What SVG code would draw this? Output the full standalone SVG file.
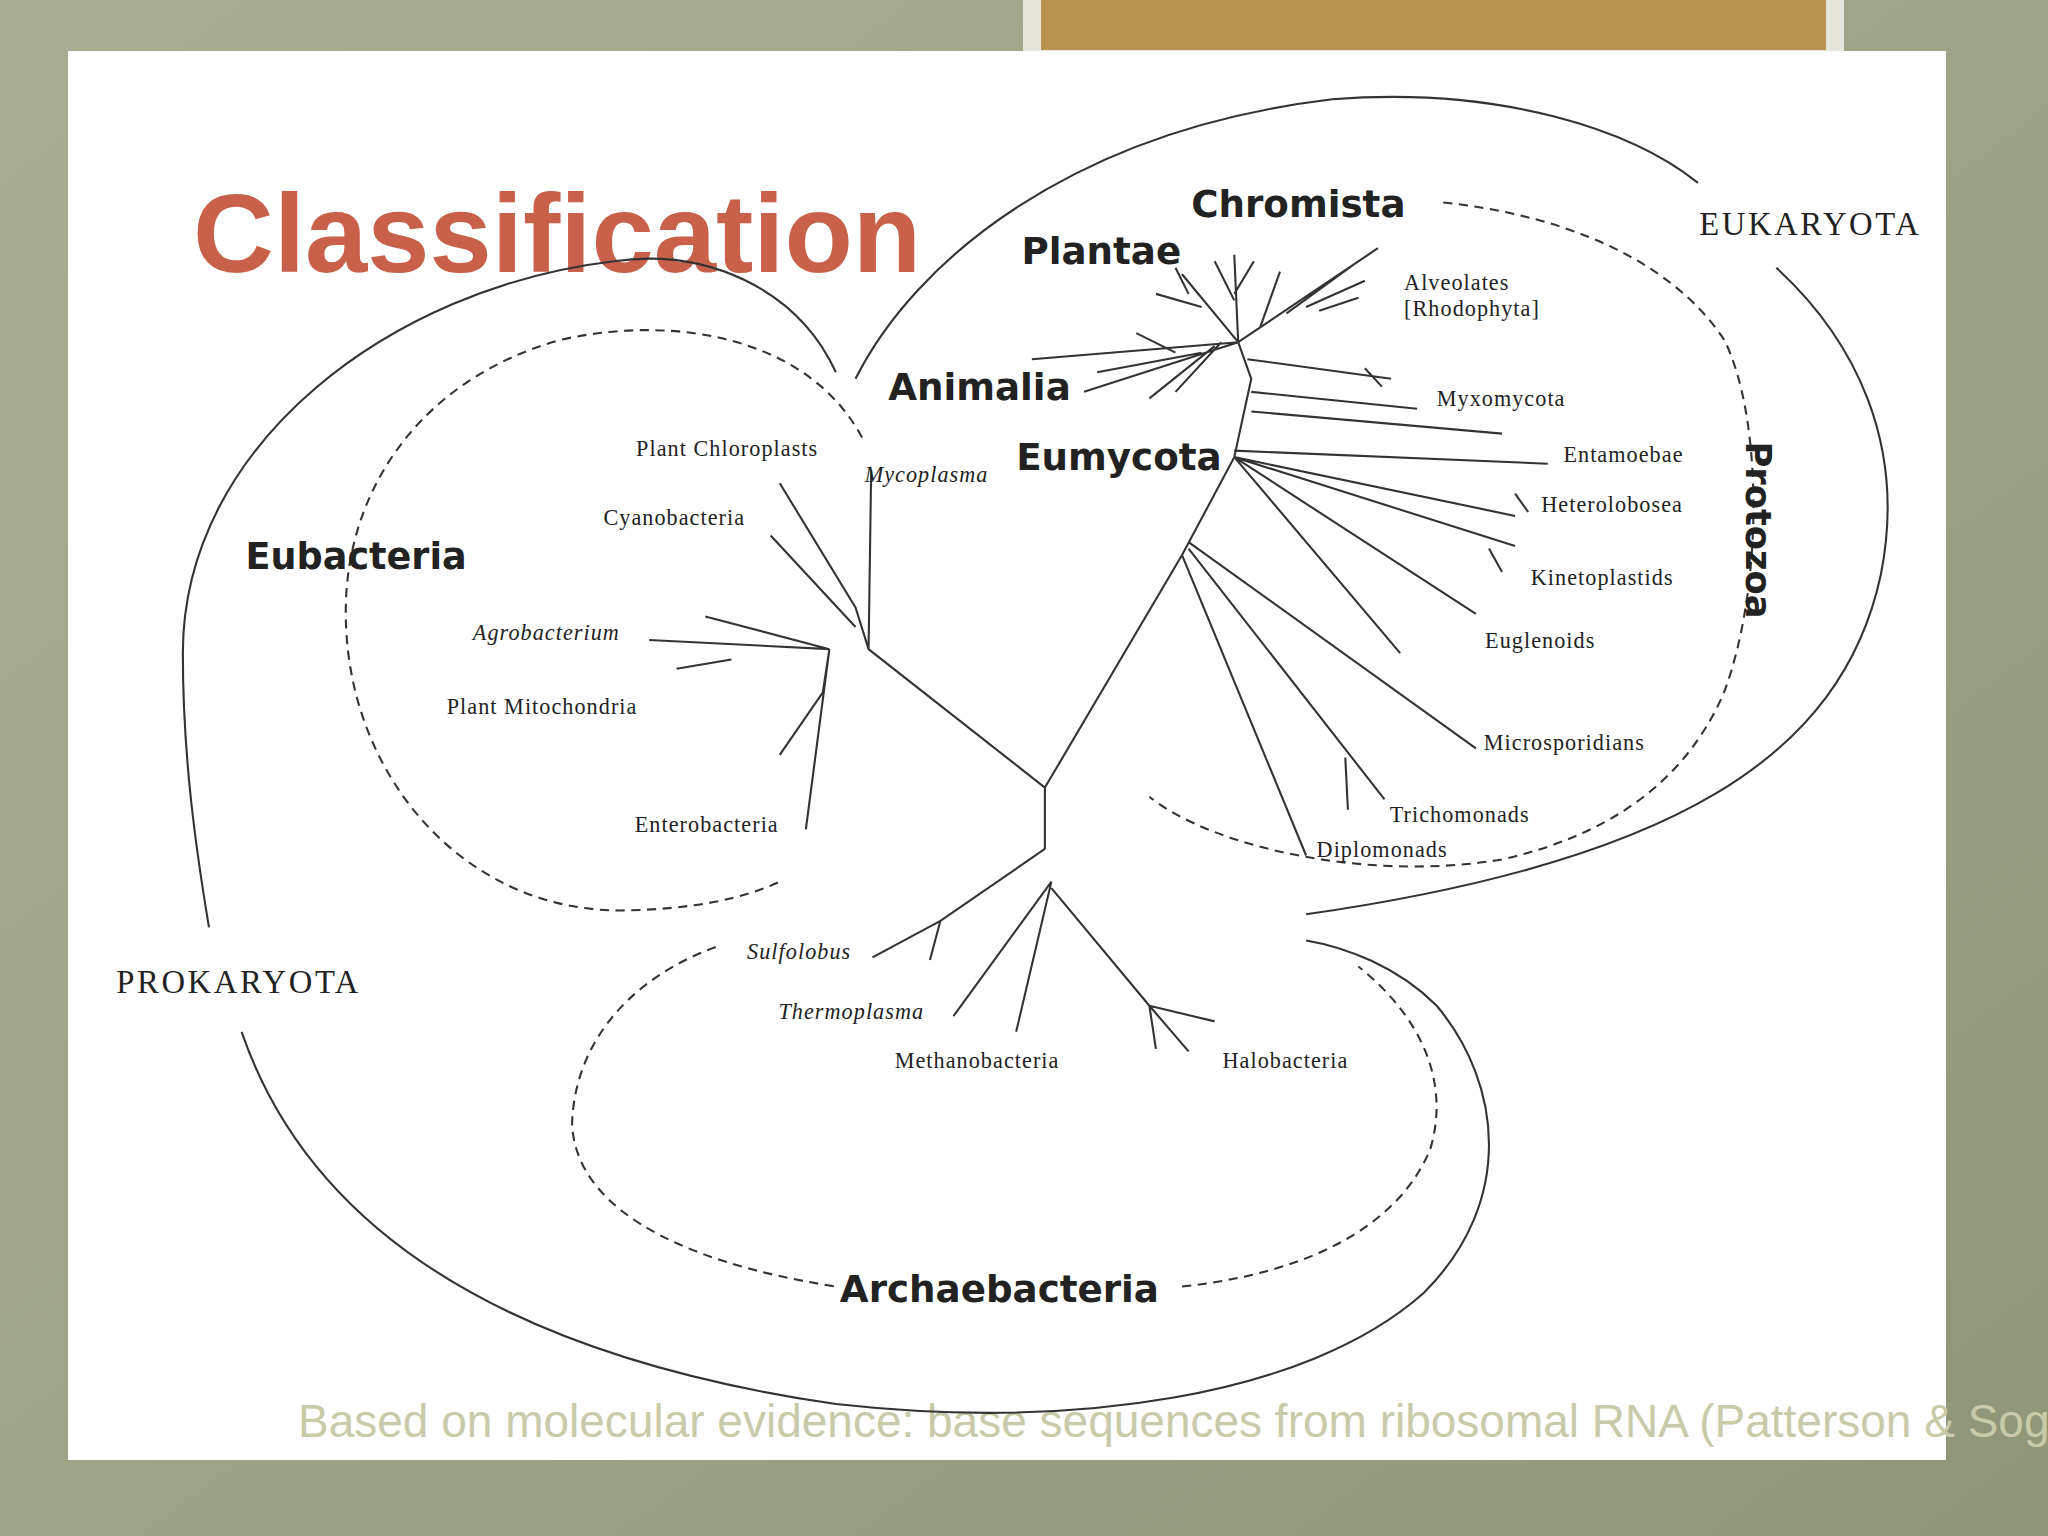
<svg xmlns="http://www.w3.org/2000/svg" width="2048" height="1536" viewBox="0 0 2048 1536">
<defs>
<linearGradient id="bg" x1="0" y1="0" x2="1" y2="1"><stop offset="0" stop-color="#a9ae92"/><stop offset="0.5" stop-color="#9ea488"/><stop offset="1" stop-color="#8f9678"/></linearGradient>
<style>
.l{fill:none;stroke:#333;stroke-width:1.6}
.d{fill:none;stroke:#333;stroke-width:1.6;stroke-dasharray:7 5}
.s{font-family:"Liberation Serif",serif;font-size:17px;letter-spacing:0.8px;fill:#222}
.i{font-style:italic}
.b{font-family:"DejaVu Sans",sans-serif;font-weight:bold;fill:#222}
.c{font-family:"Liberation Serif",serif;font-size:25px;letter-spacing:2px;fill:#222}
</style>
</defs>
<rect width="2048" height="1536" fill="url(#bg)"/>
<rect x="1023" y="0" width="821" height="55" fill="#e6e6dc"/>
<rect x="1041" y="0" width="785" height="50" fill="#b8954f"/>
<rect x="68" y="51" width="1878" height="1409" fill="#ffffff"/>
<text x="193" y="272" font-family="Liberation Sans,sans-serif" font-weight="bold" font-size="112" fill="#c8604a">Classification</text>
<text x="298" y="1437" font-family="Liberation Sans,sans-serif" font-size="46" fill="#c9caa9">Based on molecular evidence: base sequences from ribosomal RNA  (Patterson &amp; Sogin</text>
<g transform="scale(1.30612)">
<g id="connectors">
<path class="l" d="M800 650 L800 603 L905 425 L945 350 L958 290 L948 262"/>
<path class="l" d="M800 603 L665 497 L667 360 M665 497 L655 465 L597 370 M655 480 L590 410 M635 497 L497 490 M635 497 L540 472 M560 505 L518 512 M635 497 L630 530 L597 578 M635 497 L617 635"/>
<path class="l" d="M800 650 L720 705 L668 733 M720 705 L712 735 M805 675 L730 778 M805 675 L778 790 M805 680 L880 770 L910 805 M880 770 L930 782 M880 770 L885 803"/>
<path class="l" d="M905 425 L1000 655 M910 420 L1060 612 M1030 580 L1032 620 M910 415 L1130 573 M945 350 L1072 500 M945 350 L1130 470 M945 350 L1160 418 M1140 420 L1150 438 M945 350 L1160 395 M1160 378 L1170 392 M945 345 L1185 355 M958 315 L1150 332 M958 300 L1085 313 M955 275 L1065 290 M1045 282 L1058 296"/>
<path class="l" d="M948 262 L1055 190 M965 250 L980 208 M985 240 L1040 200 M1000 235 L1045 215 M1010 238 L1040 228 M948 262 L945 195 M945 230 L930 200 M945 225 L960 200 M948 262 L905 210 M920 235 L885 225 M910 225 L900 205 M948 262 L790 275 M948 262 L830 300 M900 270 L870 255 M920 270 L840 285 M930 265 L880 305 M935 262 L900 300"/>
<path class="d" d="M660 335 C620 260 520 240 430 260 C320 290 260 380 265 480 C270 600 360 700 480 697 C530 696 570 688 597 675"/>
<path class="l" d="M640 285 C610 220 540 190 470 200 C300 220 140 340 140 500 C140 580 150 650 160 710"/>
<path class="l" d="M185 790 C240 950 400 1040 640 1075 C820 1095 1000 1070 1090 990 C1160 920 1150 830 1100 770 C1070 740 1030 725 1000 720"/>
<path class="l" d="M655 290 C700 200 820 100 1020 76 C1150 66 1250 100 1300 140"/>
<path class="l" d="M1360 205 C1420 260 1460 340 1440 440 C1410 580 1280 660 1000 700"/>
<path class="d" d="M1105 155 C1200 165 1280 200 1320 260 C1350 320 1350 450 1320 530 C1290 600 1230 640 1150 658 C1050 675 930 650 880 610"/>
<path class="d" d="M548 725 C480 750 440 800 438 860 C440 920 510 965 640 985"/>
<path class="d" d="M905 985 C1000 975 1070 940 1095 880 C1110 830 1090 780 1040 740"/>
</g>
<g id="labels">
<text class="b" x="912" y="166" font-size="28.5">Chromista</text>
<text class="b" x="782" y="202" font-size="28.5">Plantae</text>
<text class="b" x="680" y="306" font-size="28.5">Animalia</text>
<text class="b" x="778" y="360" font-size="28.5">Eumycota</text>
<text class="b" x="188" y="436" font-size="28">Eubacteria</text>
<text class="b" x="643" y="997" font-size="28.5">Archaebacteria</text>
<text class="b" font-size="27" transform="translate(1337,338) rotate(90)">Protozoa</text>
<text class="c" x="1301" y="180">EUKARYOTA</text>
<text class="c" x="89" y="760">PROKARYOTA</text>
<text class="s" x="1075" y="222">Alveolates</text>
<text class="s" x="1075" y="242">[Rhodophyta]</text>
<text class="s" x="1100" y="311">Myxomycota</text>
<text class="s" x="1197" y="354">Entamoebae</text>
<text class="s" x="1180" y="392">Heterolobosea</text>
<text class="s" x="1172" y="448">Kinetoplastids</text>
<text class="s" x="1137" y="496">Euglenoids</text>
<text class="s" x="1136" y="574">Microsporidians</text>
<text class="s" x="1064" y="629">Trichomonads</text>
<text class="s" x="1008" y="656">Diplomonads</text>
<text class="s" x="487" y="349">Plant Chloroplasts</text>
<text class="s i" x="662" y="369">Mycoplasma</text>
<text class="s" x="462" y="402">Cyanobacteria</text>
<text class="s i" x="362" y="490">Agrobacterium</text>
<text class="s" x="342" y="547">Plant Mitochondria</text>
<text class="s" x="486" y="637">Enterobacteria</text>
<text class="s i" x="572" y="734">Sulfolobus</text>
<text class="s i" x="596" y="780">Thermoplasma</text>
<text class="s" x="685" y="818">Methanobacteria</text>
<text class="s" x="936" y="818">Halobacteria</text>
</g>
</g>
</svg>
